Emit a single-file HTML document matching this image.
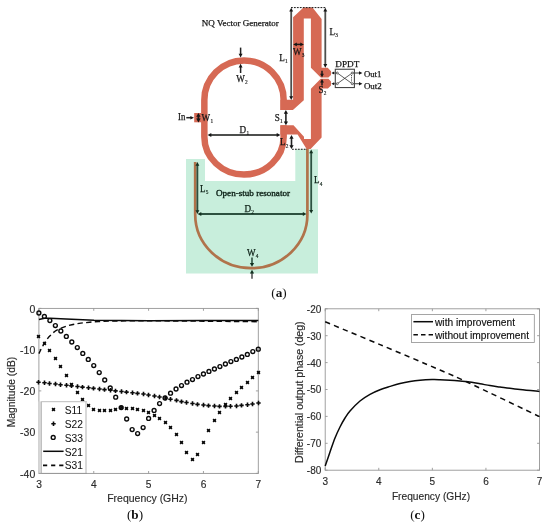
<!DOCTYPE html>
<html><head><meta charset="utf-8"><title>Figure</title>
<style>html,body{margin:0;padding:0;background:#fff}svg{display:block}</style></head>
<body>
<svg width="550" height="528" viewBox="0 0 550 528">
<rect x="0" y="0" width="550" height="528" fill="#ffffff"/>
<polygon points="186,159 205,159 205,181 295.3,181 295.3,149.3 318,149.3 318,273.5 186,273.5" fill="#C8EEDC"/>
<path d="M283.65,110 L283.65,100.05 A39.65,39.65 0 0 0 204.35,100.05 L204.35,136.80 A39.65,37.80 0 0 0 283.65,136.80 L283.65,125.2" fill="none" stroke="#D66954" stroke-width="6.5"/>
<polygon points="293.1,17.2 303.5,7.6 312.5,7.6 321.6,19 321.6,67.8 327.7,67.8 331,71.2 331,74.9 328.4,77.5 320.7,77.5 310.9,67.8 310.9,18.5 303.8,18.5 303.8,100.3 292.9,110 280.4,110 280.4,99.8 293.1,99.8" fill="#D66954"/>
<polygon points="320.7,78.8 328.4,78.8 331,81.4 331,85.6 327.9,88.6 321.6,88.6 321.6,137.6 310.6,149 306.6,149 297.6,134.4 280.4,134.4 280.4,125.2 293.5,125.2 304,136.7 304,139 310.9,139 310.9,88.8" fill="#D66954"/>
<rect x="194.2" y="113" width="7.2" height="9.3" fill="#D66954"/>
<path d="M195.2,162 L195.2,214.50 A56.10,53.70 0 0 0 307.4,214.50 L307.4,148.7" fill="none" stroke="#B0734B" stroke-width="2.7"/>
<line x1="291" y1="7.6" x2="326" y2="7.6" stroke="#151515" stroke-width="1" stroke-dasharray="1.8,1.15"/>
<line x1="292" y1="149.3" x2="307" y2="149.3" stroke="#151515" stroke-width="1.1" stroke-dasharray="1.8,1.15"/>
<line x1="240.60" y1="47.60" x2="240.60" y2="54.54" stroke="#222" stroke-width="1.5"/>
<polygon points="240.60,57.50 238.65,53.80 242.55,53.80" fill="#151515"/>
<line x1="240.60" y1="73.00" x2="240.60" y2="66.76" stroke="#222" stroke-width="1.5"/>
<polygon points="240.60,63.80 242.55,67.50 238.65,67.50" fill="#151515"/>
<line x1="291.20" y1="10.76" x2="291.20" y2="97.04" stroke="#4d4f4d" stroke-width="1.8"/>
<polygon points="291.20,100.00 289.25,96.30 293.15,96.30" fill="#151515"/>
<polygon points="291.20,7.80 289.25,11.50 293.15,11.50" fill="#151515"/>
<line x1="325.30" y1="10.76" x2="325.30" y2="64.84" stroke="#4d4f4d" stroke-width="1.8"/>
<polygon points="325.30,67.80 323.35,64.10 327.25,64.10" fill="#151515"/>
<polygon points="325.30,7.80 323.35,11.50 327.25,11.50" fill="#151515"/>
<line x1="296.08" y1="44.40" x2="301.02" y2="44.40" stroke="#1a1a1a" stroke-width="1.5"/>
<polygon points="303.90,44.40 300.30,46.30 300.30,42.50" fill="#151515"/>
<polygon points="293.20,44.40 296.80,46.30 296.80,42.50" fill="#151515"/>
<line x1="322.00" y1="70.80" x2="322.00" y2="74.52" stroke="#1a1a1a" stroke-width="1.5"/>
<polygon points="322.00,77.40 320.10,73.80 323.90,73.80" fill="#151515"/>
<line x1="322.00" y1="85.60" x2="322.00" y2="81.88" stroke="#1a1a1a" stroke-width="1.5"/>
<polygon points="322.00,79.00 323.90,82.60 320.10,82.60" fill="#151515"/>
<line x1="285.90" y1="113.04" x2="285.90" y2="122.16" stroke="#222" stroke-width="1.6"/>
<polygon points="285.90,125.20 283.80,121.40 288.00,121.40" fill="#151515"/>
<polygon points="285.90,110.00 283.80,113.80 288.00,113.80" fill="#151515"/>
<line x1="291.50" y1="138.04" x2="291.50" y2="145.96" stroke="#222" stroke-width="1.6"/>
<polygon points="291.50,149.00 289.40,145.20 293.60,145.20" fill="#151515"/>
<polygon points="291.50,135.00 289.40,138.80 293.60,138.80" fill="#151515"/>
<line x1="210.56" y1="135.00" x2="277.44" y2="135.00" stroke="#4d4f4d" stroke-width="1.8"/>
<polygon points="280.40,135.00 276.70,136.95 276.70,133.05" fill="#151515"/>
<polygon points="207.60,135.00 211.30,136.95 211.30,133.05" fill="#151515"/>
<line x1="198.40" y1="116.04" x2="198.40" y2="119.36" stroke="#1a1a1a" stroke-width="1.9"/>
<polygon points="198.40,122.40 196.20,118.60 200.60,118.60" fill="#151515"/>
<polygon points="198.40,113.00 196.20,116.80 200.60,116.80" fill="#151515"/>
<line x1="186.30" y1="117.70" x2="191.12" y2="117.70" stroke="#222" stroke-width="1.5"/>
<polygon points="194.00,117.70 190.40,119.50 190.40,115.90" fill="#151515"/>
<line x1="197.40" y1="164.96" x2="197.40" y2="211.04" stroke="#2d5140" stroke-width="1.8"/>
<polygon points="197.40,214.00 195.45,210.30 199.35,210.30" fill="#12301f"/>
<polygon points="197.40,162.00 195.45,165.70 199.35,165.70" fill="#12301f"/>
<line x1="200.56" y1="214.00" x2="303.54" y2="214.00" stroke="#2d5140" stroke-width="1.8"/>
<polygon points="306.50,214.00 302.80,215.95 302.80,212.05" fill="#12301f"/>
<polygon points="197.60,214.00 201.30,215.95 201.30,212.05" fill="#12301f"/>
<line x1="311.20" y1="152.56" x2="311.20" y2="210.64" stroke="#2d5140" stroke-width="1.8"/>
<polygon points="311.20,213.60 309.25,209.90 313.15,209.90" fill="#12301f"/>
<polygon points="311.20,149.60 309.25,153.30 313.15,153.30" fill="#12301f"/>
<line x1="252.00" y1="257.60" x2="252.00" y2="263.66" stroke="#2d5140" stroke-width="1.6"/>
<polygon points="252.00,266.70 249.90,262.90 254.10,262.90" fill="#12301f"/>
<line x1="252.00" y1="278.80" x2="252.00" y2="272.74" stroke="#555" stroke-width="1.6"/>
<polygon points="252.00,269.70 254.10,273.50 249.90,273.50" fill="#12301f"/>
<rect x="335.3" y="69.25" width="19.1" height="18.3" fill="none" stroke="#444" stroke-width="1.1"/>
<line x1="337.3" y1="73" x2="352.2" y2="83.7" stroke="#333" stroke-width="0.8"/>
<line x1="337.3" y1="83.7" x2="352.2" y2="73" stroke="#333" stroke-width="0.8"/>
<circle cx="337.3" cy="73" r="1" fill="#fff" stroke="#333" stroke-width="0.7"/>
<circle cx="337.3" cy="83.7" r="1" fill="#fff" stroke="#333" stroke-width="0.7"/>
<circle cx="352.2" cy="73" r="1" fill="#fff" stroke="#333" stroke-width="0.7"/>
<circle cx="352.2" cy="83.7" r="1" fill="#fff" stroke="#333" stroke-width="0.7"/>
<line x1="351.5" y1="75" x2="351.5" y2="82" stroke="#333" stroke-width="0.9" stroke-dasharray="1,0.8"/>
<line x1="336.50" y1="73.00" x2="333.64" y2="73.00" stroke="#4d4f4d" stroke-width="0.9"/>
<polygon points="331.40,73.00 334.20,71.50 334.20,74.50" fill="#151515"/>
<line x1="336.50" y1="83.70" x2="333.64" y2="83.70" stroke="#4d4f4d" stroke-width="0.9"/>
<polygon points="331.40,83.70 334.20,82.20 334.20,85.20" fill="#151515"/>
<line x1="353.00" y1="73.00" x2="359.68" y2="73.00" stroke="#4d4f4d" stroke-width="1.1"/>
<polygon points="362.40,73.00 359.00,74.70 359.00,71.30" fill="#151515"/>
<line x1="353.00" y1="83.70" x2="359.68" y2="83.70" stroke="#4d4f4d" stroke-width="1.1"/>
<polygon points="362.40,83.70 359.00,85.40 359.00,82.00" fill="#151515"/>
<text x="201.8" y="26.2" font-family='"Liberation Serif", serif' font-size="9" fill="#151515" stroke="#151515" stroke-width="0.25" text-anchor="start" font-weight="normal" textLength="77" lengthAdjust="spacingAndGlyphs">NQ Vector Generator</text>
<text x="236.2" y="82.2" font-family='"Liberation Serif", serif' font-size="9.9" fill="#151515" stroke="#151515" stroke-width="0.25" textLength="8.60" lengthAdjust="spacingAndGlyphs">W</text>
<text x="245.00" y="84.30" font-family='"Liberation Serif", serif' font-size="5.3" fill="#151515" stroke="#151515" stroke-width="0.15">2</text>
<text x="279.2" y="60.6" font-family='"Liberation Serif", serif' font-size="9.9" fill="#151515" stroke="#151515" stroke-width="0.25" textLength="5.56" lengthAdjust="spacingAndGlyphs">L</text>
<text x="284.96" y="62.70" font-family='"Liberation Serif", serif' font-size="5.3" fill="#151515" stroke="#151515" stroke-width="0.15">1</text>
<text x="329.6" y="34.6" font-family='"Liberation Serif", serif' font-size="9.9" fill="#151515" stroke="#151515" stroke-width="0.25" textLength="5.56" lengthAdjust="spacingAndGlyphs">L</text>
<text x="335.36" y="36.70" font-family='"Liberation Serif", serif' font-size="5.3" fill="#151515" stroke="#151515" stroke-width="0.15">3</text>
<text x="292.9" y="54.7" font-family='"Liberation Serif", serif' font-size="9.9" fill="#151515" stroke="#151515" stroke-width="0.25" textLength="8.60" lengthAdjust="spacingAndGlyphs">W</text>
<text x="301.70" y="56.80" font-family='"Liberation Serif", serif' font-size="5.3" fill="#151515" stroke="#151515" stroke-width="0.15">3</text>
<text x="335.3" y="66.7" font-family='"Liberation Serif", serif' font-size="9.2" fill="#151515" stroke="#151515" stroke-width="0.25" text-anchor="start" font-weight="normal" textLength="24" lengthAdjust="spacingAndGlyphs">DPDT</text>
<text x="363.9" y="76.9" font-family='"Liberation Serif", serif' font-size="9" fill="#151515" stroke="#151515" stroke-width="0.25" text-anchor="start" font-weight="normal" textLength="17.4" lengthAdjust="spacingAndGlyphs">Out1</text>
<text x="363.9" y="89" font-family='"Liberation Serif", serif' font-size="9" fill="#151515" stroke="#151515" stroke-width="0.25" text-anchor="start" font-weight="normal" textLength="17.8" lengthAdjust="spacingAndGlyphs">Out2</text>
<text x="318.6" y="93" font-family='"Liberation Serif", serif' font-size="9.9" fill="#151515" stroke="#151515" stroke-width="0.25" textLength="5.06" lengthAdjust="spacingAndGlyphs">S</text>
<text x="323.86" y="95.10" font-family='"Liberation Serif", serif' font-size="5.3" fill="#151515" stroke="#151515" stroke-width="0.15">2</text>
<text x="274.8" y="121.3" font-family='"Liberation Serif", serif' font-size="9.9" fill="#151515" stroke="#151515" stroke-width="0.25" textLength="5.06" lengthAdjust="spacingAndGlyphs">S</text>
<text x="280.06" y="123.40" font-family='"Liberation Serif", serif' font-size="5.3" fill="#151515" stroke="#151515" stroke-width="0.15">1</text>
<text x="239.6" y="133" font-family='"Liberation Serif", serif' font-size="9.9" fill="#151515" stroke="#151515" stroke-width="0.25" textLength="6.58" lengthAdjust="spacingAndGlyphs">D</text>
<text x="246.38" y="135.10" font-family='"Liberation Serif", serif' font-size="5.3" fill="#151515" stroke="#151515" stroke-width="0.15">1</text>
<text x="280" y="145.4" font-family='"Liberation Serif", serif' font-size="9.9" fill="#151515" stroke="#151515" stroke-width="0.25" textLength="5.56" lengthAdjust="spacingAndGlyphs">L</text>
<text x="285.76" y="147.50" font-family='"Liberation Serif", serif' font-size="5.3" fill="#151515" stroke="#151515" stroke-width="0.15">2</text>
<text x="178" y="120.4" font-family='"Liberation Serif", serif' font-size="9.6" fill="#151515" stroke="#151515" stroke-width="0.25" text-anchor="start" font-weight="normal" textLength="7.2" lengthAdjust="spacingAndGlyphs">In</text>
<text x="201.6" y="120.5" font-family='"Liberation Serif", serif' font-size="9.9" fill="#151515" stroke="#151515" stroke-width="0.25" textLength="8.60" lengthAdjust="spacingAndGlyphs">W</text>
<text x="210.40" y="122.60" font-family='"Liberation Serif", serif' font-size="5.3" fill="#151515" stroke="#151515" stroke-width="0.15">1</text>
<text x="200" y="191.6" font-family='"Liberation Serif", serif' font-size="9.9" fill="#0b1f15" stroke="#0b1f15" stroke-width="0.25" textLength="5.56" lengthAdjust="spacingAndGlyphs">L</text>
<text x="205.76" y="193.70" font-family='"Liberation Serif", serif' font-size="5.3" fill="#0b1f15" stroke="#0b1f15" stroke-width="0.15">5</text>
<text x="216" y="196" font-family='"Liberation Serif", serif' font-size="9.2" fill="#0b1f15" stroke="#0b1f15" stroke-width="0.35" text-anchor="start" font-weight="normal" textLength="74" lengthAdjust="spacingAndGlyphs">Open-stub resonator</text>
<text x="244.4" y="212" font-family='"Liberation Serif", serif' font-size="9.9" fill="#0b1f15" stroke="#0b1f15" stroke-width="0.25" textLength="6.58" lengthAdjust="spacingAndGlyphs">D</text>
<text x="251.18" y="214.10" font-family='"Liberation Serif", serif' font-size="5.3" fill="#0b1f15" stroke="#0b1f15" stroke-width="0.15">2</text>
<text x="314" y="183.4" font-family='"Liberation Serif", serif' font-size="9.9" fill="#0b1f15" stroke="#0b1f15" stroke-width="0.25" textLength="5.56" lengthAdjust="spacingAndGlyphs">L</text>
<text x="319.76" y="185.50" font-family='"Liberation Serif", serif' font-size="5.3" fill="#0b1f15" stroke="#0b1f15" stroke-width="0.15">4</text>
<text x="247" y="256.1" font-family='"Liberation Serif", serif' font-size="9.9" fill="#0b1f15" stroke="#0b1f15" stroke-width="0.25" textLength="8.60" lengthAdjust="spacingAndGlyphs">W</text>
<text x="255.80" y="258.20" font-family='"Liberation Serif", serif' font-size="5.3" fill="#0b1f15" stroke="#0b1f15" stroke-width="0.15">4</text>
<text x="279" y="296.9" font-family='"Liberation Serif", serif' font-size="13.2" fill="#111" text-anchor="middle">(<tspan font-weight="bold">a</tspan>)</text>
<text x="135" y="519.2" font-family='"Liberation Serif", serif' font-size="13.2" fill="#111" text-anchor="middle">(<tspan font-weight="bold">b</tspan>)</text>
<text x="417.5" y="519" font-family='"Liberation Serif", serif' font-size="13.2" fill="#111" text-anchor="middle">(<tspan font-weight="bold">c</tspan>)</text>
<rect x="38.9" y="308.4" width="219.40" height="165.00" fill="#fff" stroke="#969696" stroke-width="0.9"/>
<line x1="38.90" y1="473.4" x2="38.90" y2="471.0" stroke="#969696" stroke-width="0.9"/>
<line x1="38.90" y1="308.4" x2="38.90" y2="310.79999999999995" stroke="#969696" stroke-width="0.9"/>
<text x="39.00" y="487.7" font-family='"Liberation Sans", sans-serif' font-size="10.2" fill="#2b2b2b" stroke="#2b2b2b" stroke-width="0.15" text-anchor="middle" font-weight="normal">3</text>
<line x1="38.9" y1="308.40" x2="41.3" y2="308.40" stroke="#969696" stroke-width="0.9"/>
<line x1="258.3" y1="308.40" x2="255.9" y2="308.40" stroke="#969696" stroke-width="0.9"/>
<text x="35.3" y="312.50" font-family='"Liberation Sans", sans-serif' font-size="10.5" fill="#2b2b2b" stroke="#2b2b2b" stroke-width="0.15" text-anchor="end" font-weight="normal">0</text>
<line x1="93.75" y1="473.4" x2="93.75" y2="471.0" stroke="#969696" stroke-width="0.9"/>
<line x1="93.75" y1="308.4" x2="93.75" y2="310.79999999999995" stroke="#969696" stroke-width="0.9"/>
<text x="93.85" y="487.7" font-family='"Liberation Sans", sans-serif' font-size="10.2" fill="#2b2b2b" stroke="#2b2b2b" stroke-width="0.15" text-anchor="middle" font-weight="normal">4</text>
<line x1="38.9" y1="349.65" x2="41.3" y2="349.65" stroke="#969696" stroke-width="0.9"/>
<line x1="258.3" y1="349.65" x2="255.9" y2="349.65" stroke="#969696" stroke-width="0.9"/>
<text x="35.3" y="353.75" font-family='"Liberation Sans", sans-serif' font-size="10.5" fill="#2b2b2b" stroke="#2b2b2b" stroke-width="0.15" text-anchor="end" font-weight="normal">-10</text>
<line x1="148.60" y1="473.4" x2="148.60" y2="471.0" stroke="#969696" stroke-width="0.9"/>
<line x1="148.60" y1="308.4" x2="148.60" y2="310.79999999999995" stroke="#969696" stroke-width="0.9"/>
<text x="148.70" y="487.7" font-family='"Liberation Sans", sans-serif' font-size="10.2" fill="#2b2b2b" stroke="#2b2b2b" stroke-width="0.15" text-anchor="middle" font-weight="normal">5</text>
<line x1="38.9" y1="390.90" x2="41.3" y2="390.90" stroke="#969696" stroke-width="0.9"/>
<line x1="258.3" y1="390.90" x2="255.9" y2="390.90" stroke="#969696" stroke-width="0.9"/>
<text x="35.3" y="395.00" font-family='"Liberation Sans", sans-serif' font-size="10.5" fill="#2b2b2b" stroke="#2b2b2b" stroke-width="0.15" text-anchor="end" font-weight="normal">-20</text>
<line x1="203.45" y1="473.4" x2="203.45" y2="471.0" stroke="#969696" stroke-width="0.9"/>
<line x1="203.45" y1="308.4" x2="203.45" y2="310.79999999999995" stroke="#969696" stroke-width="0.9"/>
<text x="203.55" y="487.7" font-family='"Liberation Sans", sans-serif' font-size="10.2" fill="#2b2b2b" stroke="#2b2b2b" stroke-width="0.15" text-anchor="middle" font-weight="normal">6</text>
<line x1="38.9" y1="432.15" x2="41.3" y2="432.15" stroke="#969696" stroke-width="0.9"/>
<line x1="258.3" y1="432.15" x2="255.9" y2="432.15" stroke="#969696" stroke-width="0.9"/>
<text x="35.3" y="436.25" font-family='"Liberation Sans", sans-serif' font-size="10.5" fill="#2b2b2b" stroke="#2b2b2b" stroke-width="0.15" text-anchor="end" font-weight="normal">-30</text>
<line x1="258.30" y1="473.4" x2="258.30" y2="471.0" stroke="#969696" stroke-width="0.9"/>
<line x1="258.30" y1="308.4" x2="258.30" y2="310.79999999999995" stroke="#969696" stroke-width="0.9"/>
<text x="258.40" y="487.7" font-family='"Liberation Sans", sans-serif' font-size="10.2" fill="#2b2b2b" stroke="#2b2b2b" stroke-width="0.15" text-anchor="middle" font-weight="normal">7</text>
<line x1="38.9" y1="473.40" x2="41.3" y2="473.40" stroke="#969696" stroke-width="0.9"/>
<line x1="258.3" y1="473.40" x2="255.9" y2="473.40" stroke="#969696" stroke-width="0.9"/>
<text x="35.3" y="477.50" font-family='"Liberation Sans", sans-serif' font-size="10.5" fill="#2b2b2b" stroke="#2b2b2b" stroke-width="0.15" text-anchor="end" font-weight="normal">-40</text>
<text x="147.4" y="502.3" font-family='"Liberation Sans", sans-serif' font-size="10.5" fill="#2b2b2b" stroke="#2b2b2b" stroke-width="0.15" text-anchor="middle" font-weight="normal" textLength="80.4" lengthAdjust="spacingAndGlyphs">Frequency (GHz)</text>
<text transform="translate(15.4,392) rotate(-90)" font-family='"Liberation Sans", sans-serif' font-size="10.4" fill="#2b2b2b" stroke="#2b2b2b" stroke-width="0.15" text-anchor="middle" textLength="70.6" lengthAdjust="spacingAndGlyphs">Magnitude (dB)</text>
<polyline points="38.9,353.6 41,349.2 43.3,345.1 46.5,340 49,336.8 52.8,333 56,330.5 61.7,327.9 66.8,326 71.9,324.7 75.1,324.1 80.8,323.1 84,322.8 89.7,322.2 92.9,321.9 98.6,321.5 110,321.1 125,320.9 149,320.8 204,321.2 258.3,321.7" fill="none" stroke="#0a0a0a" stroke-width="1.4" stroke-dasharray="5.4,3.3" stroke-dashoffset="0.45"/>
<polyline points="38.9,319.4 44.5,318.2 50,318.3 66,319 94,320.2 149,320.7 204,320.6 258.3,320.6" fill="none" stroke="#0a0a0a" stroke-width="1.5"/>
<path d="M37.10,335.10L39.90,337.90M37.10,337.90L39.90,335.10" stroke="#0a0a0a" stroke-width="1.6" fill="none"/>
<path d="M36.30,382.20L40.70,382.20M38.50,380.00L38.50,384.40" stroke="#0a0a0a" stroke-width="1.6" fill="none"/>
<circle cx="38.90" cy="313.00" r="1.95" stroke="#0a0a0a" stroke-width="1.4" fill="none"/>
<path d="M43.10,342.10L45.90,344.90M43.10,344.90L45.90,342.10" stroke="#0a0a0a" stroke-width="1.6" fill="none"/>
<path d="M42.30,382.82L46.70,382.82M44.50,380.62L44.50,385.02" stroke="#0a0a0a" stroke-width="1.6" fill="none"/>
<circle cx="44.38" cy="316.40" r="1.95" stroke="#0a0a0a" stroke-width="1.4" fill="none"/>
<path d="M48.10,349.10L50.90,351.90M48.10,351.90L50.90,349.10" stroke="#0a0a0a" stroke-width="1.6" fill="none"/>
<path d="M47.30,383.44L51.70,383.44M49.50,381.24L49.50,385.64" stroke="#0a0a0a" stroke-width="1.6" fill="none"/>
<circle cx="49.87" cy="320.60" r="1.95" stroke="#0a0a0a" stroke-width="1.4" fill="none"/>
<path d="M54.10,357.10L56.90,359.90M54.10,359.90L56.90,357.10" stroke="#0a0a0a" stroke-width="1.6" fill="none"/>
<path d="M53.30,384.06L57.70,384.06M55.50,381.86L55.50,386.26" stroke="#0a0a0a" stroke-width="1.6" fill="none"/>
<circle cx="55.36" cy="325.60" r="1.95" stroke="#0a0a0a" stroke-width="1.4" fill="none"/>
<path d="M59.10,365.10L61.90,367.90M59.10,367.90L61.90,365.10" stroke="#0a0a0a" stroke-width="1.6" fill="none"/>
<path d="M58.30,384.68L62.70,384.68M60.50,382.48L60.50,386.88" stroke="#0a0a0a" stroke-width="1.6" fill="none"/>
<circle cx="60.84" cy="331.00" r="1.95" stroke="#0a0a0a" stroke-width="1.4" fill="none"/>
<path d="M65.10,374.10L67.90,376.90M65.10,376.90L67.90,374.10" stroke="#0a0a0a" stroke-width="1.6" fill="none"/>
<path d="M64.30,385.30L68.70,385.30M66.50,383.10L66.50,387.50" stroke="#0a0a0a" stroke-width="1.6" fill="none"/>
<circle cx="66.33" cy="336.40" r="1.95" stroke="#0a0a0a" stroke-width="1.4" fill="none"/>
<path d="M70.10,383.10L72.90,385.90M70.10,385.90L72.90,383.10" stroke="#0a0a0a" stroke-width="1.6" fill="none"/>
<path d="M69.30,385.92L73.70,385.92M71.50,383.72L71.50,388.12" stroke="#0a0a0a" stroke-width="1.6" fill="none"/>
<circle cx="71.81" cy="342.00" r="1.95" stroke="#0a0a0a" stroke-width="1.4" fill="none"/>
<path d="M76.10,391.10L78.90,393.90M76.10,393.90L78.90,391.10" stroke="#0a0a0a" stroke-width="1.6" fill="none"/>
<path d="M75.30,386.54L79.70,386.54M77.50,384.34L77.50,388.74" stroke="#0a0a0a" stroke-width="1.6" fill="none"/>
<circle cx="77.30" cy="347.60" r="1.95" stroke="#0a0a0a" stroke-width="1.4" fill="none"/>
<path d="M81.10,398.10L83.90,400.90M81.10,400.90L83.90,398.10" stroke="#0a0a0a" stroke-width="1.6" fill="none"/>
<path d="M80.30,387.16L84.70,387.16M82.50,384.96L82.50,389.36" stroke="#0a0a0a" stroke-width="1.6" fill="none"/>
<circle cx="82.78" cy="353.40" r="1.95" stroke="#0a0a0a" stroke-width="1.4" fill="none"/>
<path d="M87.10,404.10L89.90,406.90M87.10,406.90L89.90,404.10" stroke="#0a0a0a" stroke-width="1.6" fill="none"/>
<path d="M86.30,387.78L90.70,387.78M88.50,385.58L88.50,389.98" stroke="#0a0a0a" stroke-width="1.6" fill="none"/>
<circle cx="88.27" cy="359.40" r="1.95" stroke="#0a0a0a" stroke-width="1.4" fill="none"/>
<path d="M92.10,408.10L94.90,410.90M92.10,410.90L94.90,408.10" stroke="#0a0a0a" stroke-width="1.6" fill="none"/>
<path d="M91.30,388.40L95.70,388.40M93.50,386.20L93.50,390.60" stroke="#0a0a0a" stroke-width="1.6" fill="none"/>
<circle cx="93.75" cy="365.60" r="1.95" stroke="#0a0a0a" stroke-width="1.4" fill="none"/>
<path d="M98.10,409.10L100.90,411.90M98.10,411.90L100.90,409.10" stroke="#0a0a0a" stroke-width="1.6" fill="none"/>
<path d="M97.30,389.02L101.70,389.02M99.50,386.82L99.50,391.22" stroke="#0a0a0a" stroke-width="1.6" fill="none"/>
<circle cx="99.23" cy="372.60" r="1.95" stroke="#0a0a0a" stroke-width="1.4" fill="none"/>
<path d="M103.10,409.10L105.90,411.90M103.10,411.90L105.90,409.10" stroke="#0a0a0a" stroke-width="1.6" fill="none"/>
<path d="M102.30,389.64L106.70,389.64M104.50,387.44L104.50,391.84" stroke="#0a0a0a" stroke-width="1.6" fill="none"/>
<circle cx="104.72" cy="380.00" r="1.95" stroke="#0a0a0a" stroke-width="1.4" fill="none"/>
<path d="M109.10,409.10L111.90,411.90M109.10,411.90L111.90,409.10" stroke="#0a0a0a" stroke-width="1.6" fill="none"/>
<path d="M108.30,390.27L112.70,390.27M110.50,388.07L110.50,392.47" stroke="#0a0a0a" stroke-width="1.6" fill="none"/>
<circle cx="110.21" cy="388.00" r="1.95" stroke="#0a0a0a" stroke-width="1.4" fill="none"/>
<path d="M114.10,408.10L116.90,410.90M114.10,410.90L116.90,408.10" stroke="#0a0a0a" stroke-width="1.6" fill="none"/>
<path d="M113.30,390.89L117.70,390.89M115.50,388.69L115.50,393.09" stroke="#0a0a0a" stroke-width="1.6" fill="none"/>
<circle cx="115.69" cy="397.20" r="1.95" stroke="#0a0a0a" stroke-width="1.4" fill="none"/>
<path d="M120.10,406.10L122.90,408.90M120.10,408.90L122.90,406.10" stroke="#0a0a0a" stroke-width="1.6" fill="none"/>
<path d="M119.30,391.51L123.70,391.51M121.50,389.31L121.50,393.71" stroke="#0a0a0a" stroke-width="1.6" fill="none"/>
<circle cx="121.18" cy="407.60" r="1.95" stroke="#0a0a0a" stroke-width="1.4" fill="none"/>
<path d="M125.10,407.10L127.90,409.90M125.10,409.90L127.90,407.10" stroke="#0a0a0a" stroke-width="1.6" fill="none"/>
<path d="M124.30,392.13L128.70,392.13M126.50,389.93L126.50,394.33" stroke="#0a0a0a" stroke-width="1.6" fill="none"/>
<circle cx="126.66" cy="419.00" r="1.95" stroke="#0a0a0a" stroke-width="1.4" fill="none"/>
<path d="M131.10,407.10L133.90,409.90M131.10,409.90L133.90,407.10" stroke="#0a0a0a" stroke-width="1.6" fill="none"/>
<path d="M130.30,392.76L134.70,392.76M132.50,390.56L132.50,394.96" stroke="#0a0a0a" stroke-width="1.6" fill="none"/>
<circle cx="132.15" cy="429.60" r="1.95" stroke="#0a0a0a" stroke-width="1.4" fill="none"/>
<path d="M136.10,408.10L138.90,410.90M136.10,410.90L138.90,408.10" stroke="#0a0a0a" stroke-width="1.6" fill="none"/>
<path d="M135.30,393.38L139.70,393.38M137.50,391.18L137.50,395.58" stroke="#0a0a0a" stroke-width="1.6" fill="none"/>
<circle cx="137.63" cy="433.60" r="1.95" stroke="#0a0a0a" stroke-width="1.4" fill="none"/>
<path d="M142.10,409.10L144.90,411.90M142.10,411.90L144.90,409.10" stroke="#0a0a0a" stroke-width="1.6" fill="none"/>
<path d="M141.30,394.00L145.70,394.00M143.50,391.80L143.50,396.20" stroke="#0a0a0a" stroke-width="1.6" fill="none"/>
<circle cx="143.12" cy="427.60" r="1.95" stroke="#0a0a0a" stroke-width="1.4" fill="none"/>
<path d="M147.10,411.10L149.90,413.90M147.10,413.90L149.90,411.10" stroke="#0a0a0a" stroke-width="1.6" fill="none"/>
<path d="M146.30,395.00L150.70,395.00M148.50,392.80L148.50,397.20" stroke="#0a0a0a" stroke-width="1.6" fill="none"/>
<circle cx="148.60" cy="418.40" r="1.95" stroke="#0a0a0a" stroke-width="1.4" fill="none"/>
<path d="M153.10,414.10L155.90,416.90M153.10,416.90L155.90,414.10" stroke="#0a0a0a" stroke-width="1.6" fill="none"/>
<path d="M152.30,396.00L156.70,396.00M154.50,393.80L154.50,398.20" stroke="#0a0a0a" stroke-width="1.6" fill="none"/>
<circle cx="154.09" cy="410.40" r="1.95" stroke="#0a0a0a" stroke-width="1.4" fill="none"/>
<path d="M158.10,417.10L160.90,419.90M158.10,419.90L160.90,417.10" stroke="#0a0a0a" stroke-width="1.6" fill="none"/>
<path d="M157.30,397.00L161.70,397.00M159.50,394.80L159.50,399.20" stroke="#0a0a0a" stroke-width="1.6" fill="none"/>
<circle cx="159.57" cy="403.60" r="1.95" stroke="#0a0a0a" stroke-width="1.4" fill="none"/>
<path d="M164.10,421.10L166.90,423.90M164.10,423.90L166.90,421.10" stroke="#0a0a0a" stroke-width="1.6" fill="none"/>
<path d="M163.30,398.00L167.70,398.00M165.50,395.80L165.50,400.20" stroke="#0a0a0a" stroke-width="1.6" fill="none"/>
<circle cx="165.06" cy="398.00" r="1.95" stroke="#0a0a0a" stroke-width="1.4" fill="none"/>
<path d="M169.10,426.10L171.90,428.90M169.10,428.90L171.90,426.10" stroke="#0a0a0a" stroke-width="1.6" fill="none"/>
<path d="M168.30,399.20L172.70,399.20M170.50,397.00L170.50,401.40" stroke="#0a0a0a" stroke-width="1.6" fill="none"/>
<circle cx="170.54" cy="393.20" r="1.95" stroke="#0a0a0a" stroke-width="1.4" fill="none"/>
<path d="M175.10,433.10L177.90,435.90M175.10,435.90L177.90,433.10" stroke="#0a0a0a" stroke-width="1.6" fill="none"/>
<path d="M174.30,400.40L178.70,400.40M176.50,398.20L176.50,402.60" stroke="#0a0a0a" stroke-width="1.6" fill="none"/>
<circle cx="176.03" cy="389.00" r="1.95" stroke="#0a0a0a" stroke-width="1.4" fill="none"/>
<path d="M180.10,441.10L182.90,443.90M180.10,443.90L182.90,441.10" stroke="#0a0a0a" stroke-width="1.6" fill="none"/>
<path d="M179.30,401.60L183.70,401.60M181.50,399.40L181.50,403.80" stroke="#0a0a0a" stroke-width="1.6" fill="none"/>
<circle cx="181.51" cy="385.60" r="1.95" stroke="#0a0a0a" stroke-width="1.4" fill="none"/>
<path d="M185.10,451.10L187.90,453.90M185.10,453.90L187.90,451.10" stroke="#0a0a0a" stroke-width="1.6" fill="none"/>
<path d="M184.30,402.53L188.70,402.53M186.50,400.33L186.50,404.73" stroke="#0a0a0a" stroke-width="1.6" fill="none"/>
<circle cx="187.00" cy="382.20" r="1.95" stroke="#0a0a0a" stroke-width="1.4" fill="none"/>
<path d="M191.10,458.10L193.90,460.90M191.10,460.90L193.90,458.10" stroke="#0a0a0a" stroke-width="1.6" fill="none"/>
<path d="M190.30,403.47L194.70,403.47M192.50,401.27L192.50,405.67" stroke="#0a0a0a" stroke-width="1.6" fill="none"/>
<circle cx="192.48" cy="379.60" r="1.95" stroke="#0a0a0a" stroke-width="1.4" fill="none"/>
<path d="M196.10,453.10L198.90,455.90M196.10,455.90L198.90,453.10" stroke="#0a0a0a" stroke-width="1.6" fill="none"/>
<path d="M195.30,404.40L199.70,404.40M197.50,402.20L197.50,406.60" stroke="#0a0a0a" stroke-width="1.6" fill="none"/>
<circle cx="197.97" cy="376.60" r="1.95" stroke="#0a0a0a" stroke-width="1.4" fill="none"/>
<path d="M202.10,441.10L204.90,443.90M202.10,443.90L204.90,441.10" stroke="#0a0a0a" stroke-width="1.6" fill="none"/>
<path d="M201.30,405.00L205.70,405.00M203.50,402.80L203.50,407.20" stroke="#0a0a0a" stroke-width="1.6" fill="none"/>
<circle cx="203.45" cy="374.00" r="1.95" stroke="#0a0a0a" stroke-width="1.4" fill="none"/>
<path d="M207.10,429.10L209.90,431.90M207.10,431.90L209.90,429.10" stroke="#0a0a0a" stroke-width="1.6" fill="none"/>
<path d="M206.30,405.60L210.70,405.60M208.50,403.40L208.50,407.80" stroke="#0a0a0a" stroke-width="1.6" fill="none"/>
<circle cx="208.94" cy="371.40" r="1.95" stroke="#0a0a0a" stroke-width="1.4" fill="none"/>
<path d="M213.10,419.10L215.90,421.90M213.10,421.90L215.90,419.10" stroke="#0a0a0a" stroke-width="1.6" fill="none"/>
<path d="M212.30,406.00L216.70,406.00M214.50,403.80L214.50,408.20" stroke="#0a0a0a" stroke-width="1.6" fill="none"/>
<circle cx="214.42" cy="369.00" r="1.95" stroke="#0a0a0a" stroke-width="1.4" fill="none"/>
<path d="M218.10,411.10L220.90,413.90M218.10,413.90L220.90,411.10" stroke="#0a0a0a" stroke-width="1.6" fill="none"/>
<path d="M217.30,406.40L221.70,406.40M219.50,404.20L219.50,408.60" stroke="#0a0a0a" stroke-width="1.6" fill="none"/>
<circle cx="219.91" cy="366.60" r="1.95" stroke="#0a0a0a" stroke-width="1.4" fill="none"/>
<path d="M224.10,403.10L226.90,405.90M224.10,405.90L226.90,403.10" stroke="#0a0a0a" stroke-width="1.6" fill="none"/>
<path d="M223.30,406.40L227.70,406.40M225.50,404.20L225.50,408.60" stroke="#0a0a0a" stroke-width="1.6" fill="none"/>
<circle cx="225.39" cy="364.00" r="1.95" stroke="#0a0a0a" stroke-width="1.4" fill="none"/>
<path d="M229.10,397.10L231.90,399.90M229.10,399.90L231.90,397.10" stroke="#0a0a0a" stroke-width="1.6" fill="none"/>
<path d="M228.30,406.20L232.70,406.20M230.50,404.00L230.50,408.40" stroke="#0a0a0a" stroke-width="1.6" fill="none"/>
<circle cx="230.88" cy="361.60" r="1.95" stroke="#0a0a0a" stroke-width="1.4" fill="none"/>
<path d="M235.10,391.10L237.90,393.90M235.10,393.90L237.90,391.10" stroke="#0a0a0a" stroke-width="1.6" fill="none"/>
<path d="M234.30,406.00L238.70,406.00M236.50,403.80L236.50,408.20" stroke="#0a0a0a" stroke-width="1.6" fill="none"/>
<circle cx="236.36" cy="359.40" r="1.95" stroke="#0a0a0a" stroke-width="1.4" fill="none"/>
<path d="M240.10,386.10L242.90,388.90M240.10,388.90L242.90,386.10" stroke="#0a0a0a" stroke-width="1.6" fill="none"/>
<path d="M239.30,405.40L243.70,405.40M241.50,403.20L241.50,407.60" stroke="#0a0a0a" stroke-width="1.6" fill="none"/>
<circle cx="241.85" cy="357.00" r="1.95" stroke="#0a0a0a" stroke-width="1.4" fill="none"/>
<path d="M246.10,381.10L248.90,383.90M246.10,383.90L248.90,381.10" stroke="#0a0a0a" stroke-width="1.6" fill="none"/>
<path d="M245.30,404.80L249.70,404.80M247.50,402.60L247.50,407.00" stroke="#0a0a0a" stroke-width="1.6" fill="none"/>
<circle cx="247.33" cy="354.40" r="1.95" stroke="#0a0a0a" stroke-width="1.4" fill="none"/>
<path d="M251.10,376.10L253.90,378.90M251.10,378.90L253.90,376.10" stroke="#0a0a0a" stroke-width="1.6" fill="none"/>
<path d="M250.30,404.00L254.70,404.00M252.50,401.80L252.50,406.20" stroke="#0a0a0a" stroke-width="1.6" fill="none"/>
<circle cx="252.82" cy="351.60" r="1.95" stroke="#0a0a0a" stroke-width="1.4" fill="none"/>
<path d="M257.10,371.10L259.90,373.90M257.10,373.90L259.90,371.10" stroke="#0a0a0a" stroke-width="1.6" fill="none"/>
<path d="M256.30,403.00L260.70,403.00M258.50,400.80L258.50,405.20" stroke="#0a0a0a" stroke-width="1.6" fill="none"/>
<circle cx="258.30" cy="349.20" r="1.95" stroke="#0a0a0a" stroke-width="1.4" fill="none"/>
<rect x="38.2" y="401.4" width="3.2" height="72.4" fill="#d6d6d6"/>
<rect x="41.2" y="401" width="45.6" height="72" fill="#fff"/>
<line x1="41" y1="401.7" x2="86.8" y2="401.7" stroke="#bdbdbd" stroke-width="1"/>
<line x1="86" y1="401" x2="86" y2="473" stroke="#cdcdcd" stroke-width="1.5"/>
<line x1="41.5" y1="402" x2="41.5" y2="473" stroke="#a6a6a6" stroke-width="0.7"/>
<line x1="38.9" y1="473.4" x2="87" y2="473.4" stroke="#969696" stroke-width="0.9"/>
<path d="M52.10,408.10L54.90,410.90M52.10,410.90L54.90,408.10" stroke="#0a0a0a" stroke-width="1.6" fill="none"/>
<path d="M51.30,423.80L55.70,423.80M53.50,421.60L53.50,426.00" stroke="#0a0a0a" stroke-width="1.6" fill="none"/>
<circle cx="53.20" cy="437.40" r="1.95" stroke="#0a0a0a" stroke-width="1.4" fill="none"/>
<line x1="43.2" y1="451.3" x2="63.6" y2="451.3" stroke="#0a0a0a" stroke-width="1.5"/>
<line x1="43" y1="465.3" x2="63.6" y2="465.3" stroke="#0a0a0a" stroke-width="1.7" stroke-dasharray="4.2,3.9"/>
<text x="64.7" y="414.00" font-family='"Liberation Sans", sans-serif' font-size="10" fill="#111" stroke="#111" stroke-width="0.05" text-anchor="start" font-weight="normal" textLength="17.4" lengthAdjust="spacingAndGlyphs">S11</text>
<text x="64.7" y="427.85" font-family='"Liberation Sans", sans-serif' font-size="10" fill="#111" stroke="#111" stroke-width="0.05" text-anchor="start" font-weight="normal" textLength="18.2" lengthAdjust="spacingAndGlyphs">S22</text>
<text x="64.7" y="441.70" font-family='"Liberation Sans", sans-serif' font-size="10" fill="#111" stroke="#111" stroke-width="0.05" text-anchor="start" font-weight="normal" textLength="18.2" lengthAdjust="spacingAndGlyphs">S33</text>
<text x="64.7" y="455.55" font-family='"Liberation Sans", sans-serif' font-size="10" fill="#111" stroke="#111" stroke-width="0.05" text-anchor="start" font-weight="normal" textLength="18.2" lengthAdjust="spacingAndGlyphs">S21</text>
<text x="64.7" y="469.40" font-family='"Liberation Sans", sans-serif' font-size="10" fill="#111" stroke="#111" stroke-width="0.05" text-anchor="start" font-weight="normal" textLength="18.2" lengthAdjust="spacingAndGlyphs">S31</text>
<rect x="325.2" y="308.8" width="214.30" height="161.40" fill="#fff" stroke="#969696" stroke-width="0.9"/>
<line x1="325.20" y1="470.2" x2="325.20" y2="467.8" stroke="#969696" stroke-width="0.9"/>
<line x1="325.20" y1="308.8" x2="325.20" y2="311.2" stroke="#969696" stroke-width="0.9"/>
<text x="325.20" y="484.5" font-family='"Liberation Sans", sans-serif' font-size="10" fill="#2b2b2b" stroke="#2b2b2b" stroke-width="0.15" text-anchor="middle" font-weight="normal">3</text>
<line x1="378.77" y1="470.2" x2="378.77" y2="467.8" stroke="#969696" stroke-width="0.9"/>
<line x1="378.77" y1="308.8" x2="378.77" y2="311.2" stroke="#969696" stroke-width="0.9"/>
<text x="378.77" y="484.5" font-family='"Liberation Sans", sans-serif' font-size="10" fill="#2b2b2b" stroke="#2b2b2b" stroke-width="0.15" text-anchor="middle" font-weight="normal">4</text>
<line x1="432.35" y1="470.2" x2="432.35" y2="467.8" stroke="#969696" stroke-width="0.9"/>
<line x1="432.35" y1="308.8" x2="432.35" y2="311.2" stroke="#969696" stroke-width="0.9"/>
<text x="432.35" y="484.5" font-family='"Liberation Sans", sans-serif' font-size="10" fill="#2b2b2b" stroke="#2b2b2b" stroke-width="0.15" text-anchor="middle" font-weight="normal">5</text>
<line x1="485.93" y1="470.2" x2="485.93" y2="467.8" stroke="#969696" stroke-width="0.9"/>
<line x1="485.93" y1="308.8" x2="485.93" y2="311.2" stroke="#969696" stroke-width="0.9"/>
<text x="485.93" y="484.5" font-family='"Liberation Sans", sans-serif' font-size="10" fill="#2b2b2b" stroke="#2b2b2b" stroke-width="0.15" text-anchor="middle" font-weight="normal">6</text>
<line x1="539.50" y1="470.2" x2="539.50" y2="467.8" stroke="#969696" stroke-width="0.9"/>
<line x1="539.50" y1="308.8" x2="539.50" y2="311.2" stroke="#969696" stroke-width="0.9"/>
<text x="539.50" y="484.5" font-family='"Liberation Sans", sans-serif' font-size="10" fill="#2b2b2b" stroke="#2b2b2b" stroke-width="0.15" text-anchor="middle" font-weight="normal">7</text>
<line x1="325.2" y1="308.80" x2="327.59999999999997" y2="308.80" stroke="#969696" stroke-width="0.9"/>
<line x1="539.5" y1="308.80" x2="537.1" y2="308.80" stroke="#969696" stroke-width="0.9"/>
<text x="321.3" y="312.70" font-family='"Liberation Sans", sans-serif' font-size="10" fill="#2b2b2b" stroke="#2b2b2b" stroke-width="0.15" text-anchor="end" font-weight="normal">-20</text>
<line x1="325.2" y1="335.70" x2="327.59999999999997" y2="335.70" stroke="#969696" stroke-width="0.9"/>
<line x1="539.5" y1="335.70" x2="537.1" y2="335.70" stroke="#969696" stroke-width="0.9"/>
<text x="321.3" y="339.60" font-family='"Liberation Sans", sans-serif' font-size="10" fill="#2b2b2b" stroke="#2b2b2b" stroke-width="0.15" text-anchor="end" font-weight="normal">-30</text>
<line x1="325.2" y1="362.60" x2="327.59999999999997" y2="362.60" stroke="#969696" stroke-width="0.9"/>
<line x1="539.5" y1="362.60" x2="537.1" y2="362.60" stroke="#969696" stroke-width="0.9"/>
<text x="321.3" y="366.50" font-family='"Liberation Sans", sans-serif' font-size="10" fill="#2b2b2b" stroke="#2b2b2b" stroke-width="0.15" text-anchor="end" font-weight="normal">-40</text>
<line x1="325.2" y1="389.50" x2="327.59999999999997" y2="389.50" stroke="#969696" stroke-width="0.9"/>
<line x1="539.5" y1="389.50" x2="537.1" y2="389.50" stroke="#969696" stroke-width="0.9"/>
<text x="321.3" y="393.40" font-family='"Liberation Sans", sans-serif' font-size="10" fill="#2b2b2b" stroke="#2b2b2b" stroke-width="0.15" text-anchor="end" font-weight="normal">-50</text>
<line x1="325.2" y1="416.40" x2="327.59999999999997" y2="416.40" stroke="#969696" stroke-width="0.9"/>
<line x1="539.5" y1="416.40" x2="537.1" y2="416.40" stroke="#969696" stroke-width="0.9"/>
<text x="321.3" y="420.30" font-family='"Liberation Sans", sans-serif' font-size="10" fill="#2b2b2b" stroke="#2b2b2b" stroke-width="0.15" text-anchor="end" font-weight="normal">-60</text>
<line x1="325.2" y1="443.30" x2="327.59999999999997" y2="443.30" stroke="#969696" stroke-width="0.9"/>
<line x1="539.5" y1="443.30" x2="537.1" y2="443.30" stroke="#969696" stroke-width="0.9"/>
<text x="321.3" y="447.20" font-family='"Liberation Sans", sans-serif' font-size="10" fill="#2b2b2b" stroke="#2b2b2b" stroke-width="0.15" text-anchor="end" font-weight="normal">-70</text>
<line x1="325.2" y1="470.20" x2="327.59999999999997" y2="470.20" stroke="#969696" stroke-width="0.9"/>
<line x1="539.5" y1="470.20" x2="537.1" y2="470.20" stroke="#969696" stroke-width="0.9"/>
<text x="321.3" y="474.10" font-family='"Liberation Sans", sans-serif' font-size="10" fill="#2b2b2b" stroke="#2b2b2b" stroke-width="0.15" text-anchor="end" font-weight="normal">-80</text>
<text x="431" y="499.6" font-family='"Liberation Sans", sans-serif' font-size="10.1" fill="#2b2b2b" stroke="#2b2b2b" stroke-width="0.15" text-anchor="middle" font-weight="normal" textLength="78.2" lengthAdjust="spacingAndGlyphs">Frequency (GHz)</text>
<text transform="translate(302.6,392.2) rotate(-90)" font-family='"Liberation Sans", sans-serif' font-size="10.3" fill="#2b2b2b" stroke="#2b2b2b" stroke-width="0.15" text-anchor="middle" textLength="141.5" lengthAdjust="spacingAndGlyphs">Differential output phase (deg)</text>
<path d="M325.20,321.80 C334.33,325.60 360.87,336.57 380.00,344.60 C399.13,352.63 425.33,363.68 440.00,370.00 C454.67,376.32 451.42,374.73 468.00,382.50 C484.58,390.27 527.58,410.92 539.50,416.60" fill="none" stroke="#0a0a0a" stroke-width="1.5" stroke-dasharray="5.3,4.25"/>
<path d="M325.20,466.00 C326.00,463.67 328.37,456.67 330.00,452.00 C331.63,447.33 333.33,442.17 335.00,438.00 C336.67,433.83 338.33,430.33 340.00,427.00 C341.67,423.67 343.33,420.67 345.00,418.00 C346.67,415.33 347.50,413.83 350.00,411.00 C352.50,408.17 356.67,403.77 360.00,401.00 C363.33,398.23 366.67,396.27 370.00,394.40 C373.33,392.53 376.67,391.13 380.00,389.80 C383.33,388.47 386.67,387.47 390.00,386.40 C393.33,385.33 396.67,384.23 400.00,383.40 C403.33,382.57 406.67,381.93 410.00,381.40 C413.33,380.87 416.33,380.50 420.00,380.20 C423.67,379.90 428.67,379.68 432.00,379.60 C435.33,379.52 437.00,379.60 440.00,379.70 C443.00,379.80 446.67,379.98 450.00,380.20 C453.33,380.42 457.00,380.73 460.00,381.00 C463.00,381.27 464.67,381.33 468.00,381.80 C471.33,382.27 476.33,383.17 480.00,383.80 C483.67,384.43 486.67,385.07 490.00,385.60 C493.33,386.13 495.00,386.33 500.00,387.00 C505.00,387.67 513.42,388.87 520.00,389.60 C526.58,390.33 536.25,391.10 539.50,391.40" fill="none" stroke="#0a0a0a" stroke-width="1.5"/>
<rect x="411.4" y="314.6" width="122.9" height="27.8" fill="#fff" stroke="#8f8f8f" stroke-width="0.8"/>
<line x1="413.4" y1="321.7" x2="433" y2="321.7" stroke="#0a0a0a" stroke-width="1.5"/>
<line x1="413.4" y1="334.8" x2="433" y2="334.8" stroke="#0a0a0a" stroke-width="1.6" stroke-dasharray="4.5,3.1"/>
<text x="435" y="325.8" font-family='"Liberation Sans", sans-serif' font-size="10.2" fill="#111" stroke="#111" stroke-width="0.15" text-anchor="start" font-weight="normal" textLength="80" lengthAdjust="spacingAndGlyphs">with improvement</text>
<text x="435" y="338.8" font-family='"Liberation Sans", sans-serif' font-size="10.2" fill="#111" stroke="#111" stroke-width="0.15" text-anchor="start" font-weight="normal" textLength="94" lengthAdjust="spacingAndGlyphs">without improvement</text>
</svg>
</body></html>
